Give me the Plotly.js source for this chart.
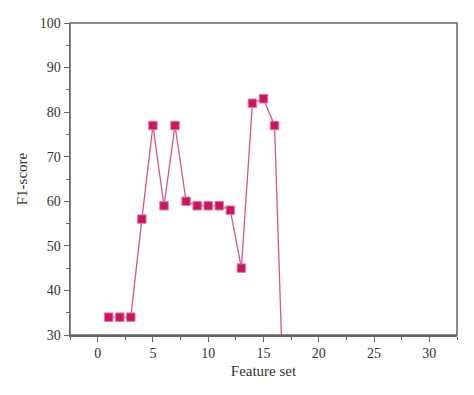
<!DOCTYPE html>
<html>
<head>
<meta charset="utf-8">
<script src="https://cdn.plot.ly/plotly-3.0.1.min.js"></script>
<style>html,body{margin:0;padding:0;background:#fff;}#chart{width:474px;height:395px;}</style>
</head>
<body>
<div id="chart"></div>
<script>
const featureSet = [1,2,3,4,5,6,7,8,9,10,11,12,13,14,15,16,17];
const f1Score = [34,34,34,56,77,59,77,60,59,59,59,58,45,82,83,77,1];
const xTickVals = [0,5,10,15,20,25,30];
const yTickVals = [30,40,50,60,70,80,90,100];

const axisColor = '#666666';
const fontFam = '"Liberation Serif", "DejaVu Serif", serif';

const trace = {
  x: featureSet,
  y: f1Score,
  mode: 'lines+markers',
  type: 'scatter',
  line: {color: '#d4558a', width: 1.3},
  marker: {symbol: 'square', size: 8.5, color: '#c8175f', line: {color: '#e77aa6', width: 1}},
  cliponaxis: true,
  showlegend: false
};

const layout = {
  width: 474, height: 395,
  margin: {l: 70, r: 17, t: 23, b: 60},
  paper_bgcolor: '#ffffff', plot_bgcolor: '#ffffff',
  font: {family: fontFam, size: 14, color: '#333333'},
  shapes: [{
    type: 'rect', xref: 'paper', yref: 'paper', x0: 0, x1: 1, y0: 0, y1: 1,
    line: {color: axisColor, width: 1.5}, fillcolor: 'rgba(0,0,0,0)', layer: 'above'
  }],
  xaxis: {
    range: [-2.5, 32.5],
    tickvals: xTickVals,
    ticks: 'outside', ticklen: 5, tickcolor: axisColor, tickwidth: 1,
    minor: {dtick: 2.5, tick0: 0, ticks: 'outside', ticklen: 3, tickcolor: axisColor},
    showgrid: false, zeroline: false,
    showline: true, linecolor: axisColor, linewidth: 1.5, mirror: false,
    tickfont: {family: fontFam, size: 14, color: '#333'},
    title: {text: 'Feature set', font: {family: fontFam, size: 15, color: '#333'}, standoff: 5}
  },
  yaxis: {
    range: [30, 100],
    tickvals: yTickVals,
    ticks: 'outside', ticklen: 5, tickcolor: axisColor, tickwidth: 1,
    minor: {dtick: 5, tick0: 0, ticks: 'outside', ticklen: 3, tickcolor: axisColor},
    showgrid: false, zeroline: false,
    showline: true, linecolor: axisColor, linewidth: 1.5, mirror: false,
    tickfont: {family: fontFam, size: 14, color: '#333'},
    title: {text: 'F1-score', font: {family: fontFam, size: 15, color: '#333'}, standoff: 8}
  }
};

Plotly.newPlot('chart', [trace], layout, {displayModeBar: false, staticPlot: true});
</script>
</body>
</html>
